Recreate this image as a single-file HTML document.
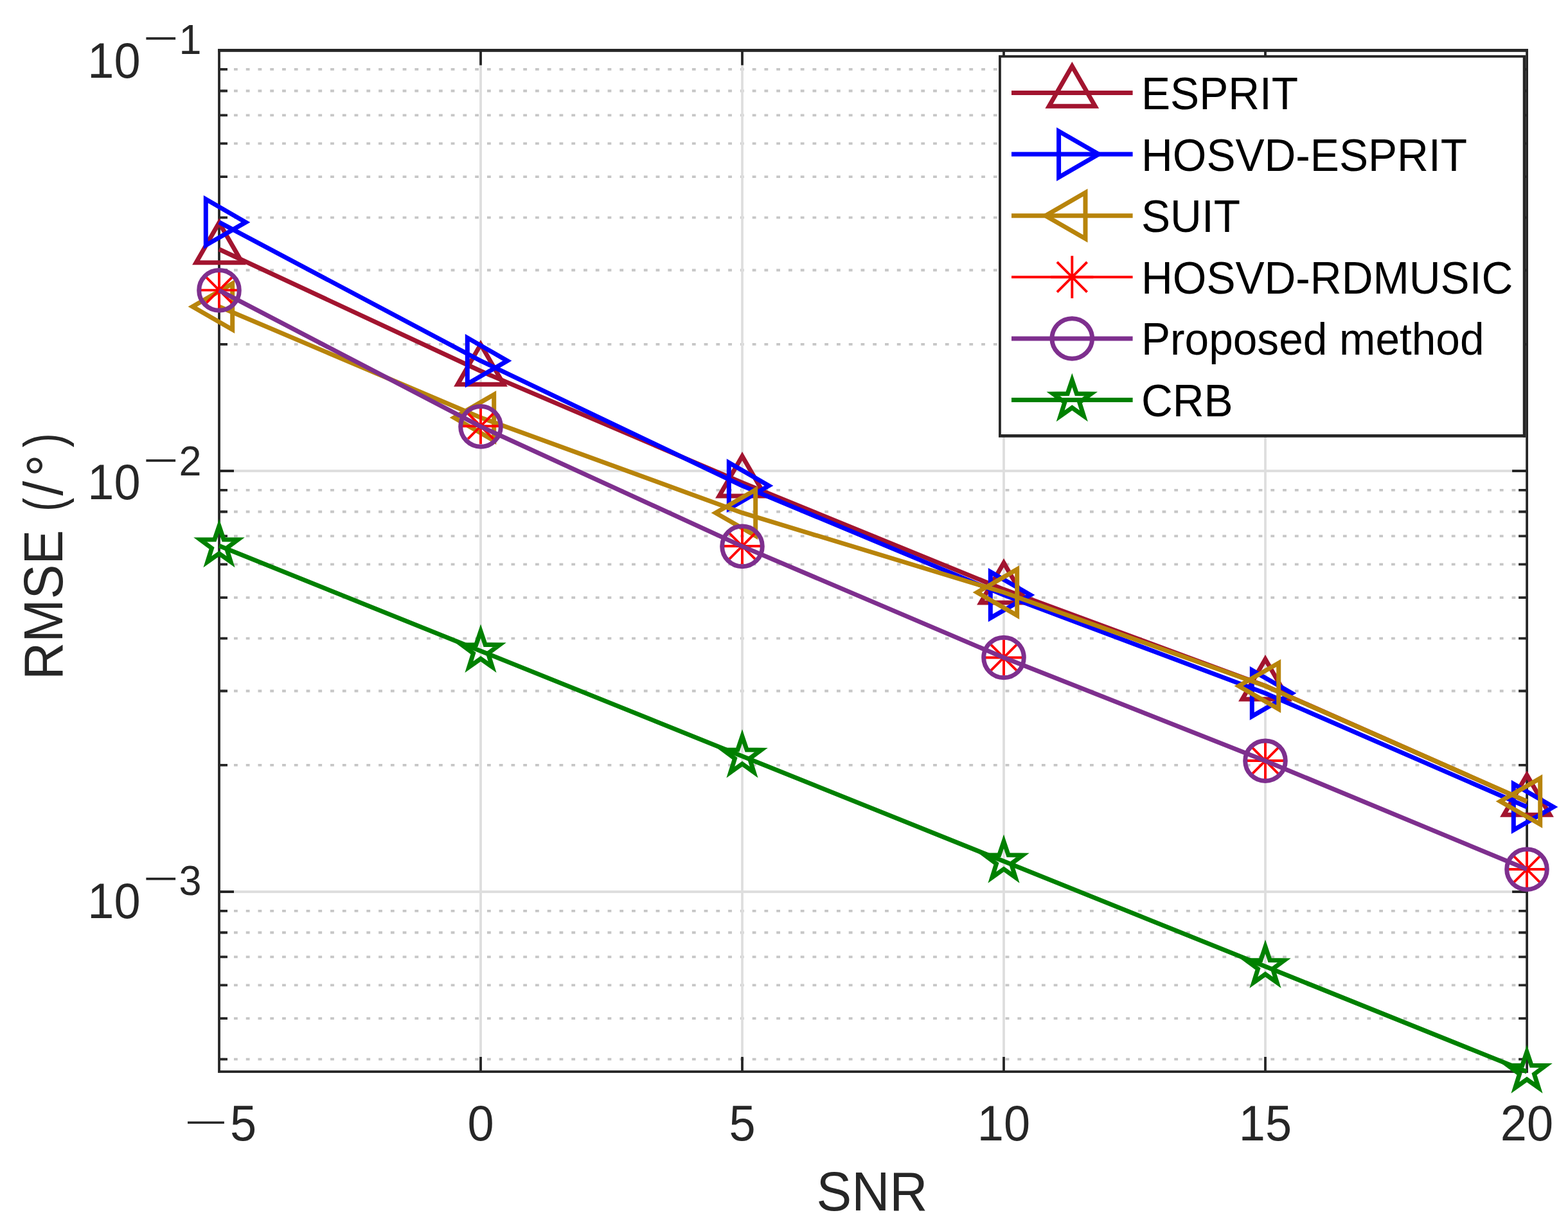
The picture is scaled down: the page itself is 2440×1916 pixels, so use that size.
<!DOCTYPE html>
<html><head><meta charset="utf-8"><title>RMSE vs SNR</title><style>
html,body{margin:0;padding:0;background:#fff;width:2440px;height:1916px;overflow:hidden;}
svg{display:block;}
text{font-family:"Liberation Sans",Arial,Helvetica,sans-serif;}
</style></head><body>
<svg width="2440" height="1916" viewBox="0 0 2440 1916">
<rect x="0" y="0" width="2440" height="1916" fill="#fff"/>
<g stroke="#c6c6c6" stroke-width="3.8" stroke-dasharray="5.8 12.96" fill="none">
<line x1="345.24" y1="535.83" x2="2376.1" y2="535.83"/>
<line x1="345.24" y1="420.49" x2="2376.1" y2="420.49"/>
<line x1="345.24" y1="338.65" x2="2376.1" y2="338.65"/>
<line x1="345.24" y1="275.17" x2="2376.1" y2="275.17"/>
<line x1="345.24" y1="223.31" x2="2376.1" y2="223.31"/>
<line x1="345.24" y1="179.46" x2="2376.1" y2="179.46"/>
<line x1="345.24" y1="141.48" x2="2376.1" y2="141.48"/>
<line x1="345.24" y1="107.97" x2="2376.1" y2="107.97"/>
<line x1="345.24" y1="1190.83" x2="2376.1" y2="1190.83"/>
<line x1="345.24" y1="1075.49" x2="2376.1" y2="1075.49"/>
<line x1="345.24" y1="993.65" x2="2376.1" y2="993.65"/>
<line x1="345.24" y1="930.17" x2="2376.1" y2="930.17"/>
<line x1="345.24" y1="878.31" x2="2376.1" y2="878.31"/>
<line x1="345.24" y1="834.46" x2="2376.1" y2="834.46"/>
<line x1="345.24" y1="796.48" x2="2376.1" y2="796.48"/>
<line x1="345.24" y1="762.97" x2="2376.1" y2="762.97"/>
<line x1="345.24" y1="1648.65" x2="2376.1" y2="1648.65"/>
<line x1="345.24" y1="1585.17" x2="2376.1" y2="1585.17"/>
<line x1="345.24" y1="1533.31" x2="2376.1" y2="1533.31"/>
<line x1="345.24" y1="1489.46" x2="2376.1" y2="1489.46"/>
<line x1="345.24" y1="1451.48" x2="2376.1" y2="1451.48"/>
<line x1="345.24" y1="1417.97" x2="2376.1" y2="1417.97"/>
</g>
<g stroke="#dedede" stroke-width="3.8" fill="none">
<line x1="341.0" y1="733.0" x2="2376.1" y2="733.0"/>
<line x1="341.0" y1="1388.0" x2="2376.1" y2="1388.0"/>
<line x1="748" y1="78.4" x2="748" y2="1668.0"/>
<line x1="1155" y1="78.4" x2="1155" y2="1668.0"/>
<line x1="1562" y1="78.4" x2="1562" y2="1668.0"/>
<line x1="1969" y1="78.4" x2="1969" y2="1668.0"/>
</g>
<g stroke="#262626" stroke-width="3.8" fill="none">
<rect x="341.0" y="78.4" width="2035.1" height="1589.6"/>
<line x1="339.1" y1="78.4" x2="2378.0" y2="78.4" stroke-width="4.85"/>
<path d="M748 1668.0V1645.0M748 78.4V101.4M1155 1668.0V1645.0M1155 78.4V101.4M1562 1668.0V1645.0M1562 78.4V101.4M1969 1668.0V1645.0M1969 78.4V101.4M341.0 733.0H364.0M2376.1 733.0H2353.1M341.0 1388.0H364.0M2376.1 1388.0H2353.1M341.0 535.83H354.0M2376.1 535.83H2363.1M341.0 420.49H354.0M2376.1 420.49H2363.1M341.0 338.65H354.0M2376.1 338.65H2363.1M341.0 275.17H354.0M2376.1 275.17H2363.1M341.0 223.31H354.0M2376.1 223.31H2363.1M341.0 179.46H354.0M2376.1 179.46H2363.1M341.0 141.48H354.0M2376.1 141.48H2363.1M341.0 107.97H354.0M2376.1 107.97H2363.1M341.0 1190.83H354.0M2376.1 1190.83H2363.1M341.0 1075.49H354.0M2376.1 1075.49H2363.1M341.0 993.65H354.0M2376.1 993.65H2363.1M341.0 930.17H354.0M2376.1 930.17H2363.1M341.0 878.31H354.0M2376.1 878.31H2363.1M341.0 834.46H354.0M2376.1 834.46H2363.1M341.0 796.48H354.0M2376.1 796.48H2363.1M341.0 762.97H354.0M2376.1 762.97H2363.1M341.0 1648.65H354.0M2376.1 1648.65H2363.1M341.0 1585.17H354.0M2376.1 1585.17H2363.1M341.0 1533.31H354.0M2376.1 1533.31H2363.1M341.0 1489.46H354.0M2376.1 1489.46H2363.1M341.0 1451.48H354.0M2376.1 1451.48H2363.1M341.0 1417.97H354.0M2376.1 1417.97H2363.1"/>
</g>
<g fill="none" stroke="#A2142F" stroke-width="7.0" stroke-miterlimit="10">
<polyline points="341,388.00 748,577.50 1155,751.30 1562,917.40 1969,1067.50 2376,1247.60" stroke-linejoin="round"/>
<path d="M341.00 346.60L376.85 408.70L305.15 408.70ZM748.00 536.10L783.85 598.20L712.15 598.20ZM1155.00 709.90L1190.85 772.00L1119.15 772.00ZM1562.00 876.00L1597.85 938.10L1526.15 938.10ZM1969.00 1026.10L2004.85 1088.20L1933.15 1088.20ZM2376.00 1206.20L2411.85 1268.30L2340.15 1268.30Z"/>
</g>
<g fill="none" stroke="#0000FF" stroke-width="7.0" stroke-miterlimit="10">
<polyline points="341,345.90 748,561.60 1155,756.00 1562,926.00 1969,1079.00 2376,1256.00" stroke-linejoin="round"/>
<path d="M382.40 345.90L320.30 381.75L320.30 310.05ZM789.40 561.60L727.30 597.45L727.30 525.75ZM1196.40 756.00L1134.30 791.85L1134.30 720.15ZM1603.40 926.00L1541.30 961.85L1541.30 890.15ZM2010.40 1079.00L1948.30 1114.85L1948.30 1043.15ZM2417.40 1256.00L2355.30 1291.85L2355.30 1220.15Z"/>
</g>
<g fill="none" stroke="#B8840B" stroke-width="7.0" stroke-miterlimit="10">
<polyline points="341,477.20 748,650.00 1155,798.20 1562,922.00 1969,1067.80 2376,1247.20" stroke-linejoin="round"/>
<path d="M299.60 477.20L361.70 441.35L361.70 513.05ZM706.60 650.00L768.70 614.15L768.70 685.85ZM1113.60 798.20L1175.70 762.35L1175.70 834.05ZM1520.60 922.00L1582.70 886.15L1582.70 957.85ZM1927.60 1067.80L1989.70 1031.95L1989.70 1103.65ZM2334.60 1247.20L2396.70 1211.35L2396.70 1283.05Z"/>
</g>
<g fill="none" stroke="#FF0000" stroke-width="3.9" stroke-miterlimit="10">
<polyline points="341,451.60 748,663.30 1155,850.00 1562,1023.50 1969,1184.00 2376,1353.00" stroke-linejoin="round"/>
<path d="M313.00 451.60H369.00M341.00 423.60V479.60M321.20 431.80L360.80 471.40M321.20 471.40L360.80 431.80M720.00 663.30H776.00M748.00 635.30V691.30M728.20 643.50L767.80 683.10M728.20 683.10L767.80 643.50M1127.00 850.00H1183.00M1155.00 822.00V878.00M1135.20 830.20L1174.80 869.80M1135.20 869.80L1174.80 830.20M1534.00 1023.50H1590.00M1562.00 995.50V1051.50M1542.20 1003.70L1581.80 1043.30M1542.20 1043.30L1581.80 1003.70M1941.00 1184.00H1997.00M1969.00 1156.00V1212.00M1949.20 1164.20L1988.80 1203.80M1949.20 1203.80L1988.80 1164.20M2348.00 1353.00H2404.00M2376.00 1325.00V1381.00M2356.20 1333.20L2395.80 1372.80M2356.20 1372.80L2395.80 1333.20"/>
</g>
<g fill="none" stroke="#7E2F8E" stroke-width="7.0" stroke-miterlimit="10">
<polyline points="341,451.90 748,663.90 1155,850.40 1562,1023.50 1969,1184.20 2376,1353.10" stroke-linejoin="round"/>
<circle cx="341" cy="451.90" r="31.3"/><circle cx="748" cy="663.90" r="31.3"/><circle cx="1155" cy="850.40" r="31.3"/><circle cx="1562" cy="1023.50" r="31.3"/><circle cx="1969" cy="1184.20" r="31.3"/><circle cx="2376" cy="1353.10" r="31.3"/>
</g>
<g fill="none" stroke="#008000" stroke-width="7.0" stroke-miterlimit="10">
<polyline points="341,849.50 748,1013.20 1155,1176.90 1562,1340.60 1969,1504.30 2376,1668.00" stroke-linejoin="round"/>
<path d="M341.00 818.65L348.11 839.72L370.34 839.97L352.50 853.24L359.13 874.46L341.00 861.59L322.87 874.46L329.50 853.24L311.66 839.97L333.89 839.72ZM748.00 982.35L755.11 1003.42L777.34 1003.67L759.50 1016.94L766.13 1038.16L748.00 1025.29L729.87 1038.16L736.50 1016.94L718.66 1003.67L740.89 1003.42ZM1155.00 1146.05L1162.11 1167.12L1184.34 1167.37L1166.50 1180.64L1173.13 1201.86L1155.00 1188.99L1136.87 1201.86L1143.50 1180.64L1125.66 1167.37L1147.89 1167.12ZM1562.00 1309.75L1569.11 1330.82L1591.34 1331.07L1573.50 1344.34L1580.13 1365.56L1562.00 1352.69L1543.87 1365.56L1550.50 1344.34L1532.66 1331.07L1554.89 1330.82ZM1969.00 1473.45L1976.11 1494.52L1998.34 1494.77L1980.50 1508.04L1987.13 1529.26L1969.00 1516.39L1950.87 1529.26L1957.50 1508.04L1939.66 1494.77L1961.89 1494.52ZM2376.00 1637.15L2383.11 1658.22L2405.34 1658.47L2387.50 1671.74L2394.13 1692.96L2376.00 1680.09L2357.87 1692.96L2364.50 1671.74L2346.66 1658.47L2368.89 1658.22Z"/>
</g>
<rect x="1555.95" y="87.8" width="815.85" height="590.60" fill="#fff" stroke="#262626" stroke-width="3.8"/>
<line x1="2372.0" y1="85.89999999999999" x2="2372.0" y2="680.6999999999999" stroke="#262626" stroke-width="4.3"/><line x1="1554.05" y1="678.4" x2="2373.7000000000003" y2="678.4" stroke="#262626" stroke-width="4.7"/>
<g fill="none" stroke="#A2142F" stroke-width="7.0" stroke-miterlimit="10"><line x1="1574" y1="144.45" x2="1762.6" y2="144.45"/><path d="M1668.30 103.05L1704.15 165.15L1632.45 165.15Z"/></g>
<g fill="none" stroke="#0000FF" stroke-width="7.0" stroke-miterlimit="10"><line x1="1574" y1="240.07" x2="1762.6" y2="240.07"/><path d="M1709.70 240.07L1647.60 275.92L1647.60 204.22Z"/></g>
<g fill="none" stroke="#B8840B" stroke-width="7.0" stroke-miterlimit="10"><line x1="1574" y1="335.69" x2="1762.6" y2="335.69"/><path d="M1626.90 335.69L1689.00 299.84L1689.00 371.54Z"/></g>
<g fill="none" stroke="#FF0000" stroke-width="3.9" stroke-miterlimit="10"><line x1="1574" y1="431.31" x2="1762.6" y2="431.31"/><path d="M1635.30 431.31H1701.30M1668.30 398.31V464.31M1644.97 407.98L1691.63 454.64M1644.97 454.64L1691.63 407.98"/></g>
<g fill="none" stroke="#7E2F8E" stroke-width="7.0" stroke-miterlimit="10"><line x1="1574" y1="526.9300000000001" x2="1762.6" y2="526.9300000000001"/><circle cx="1668.3" cy="526.93" r="31.3"/></g>
<g fill="none" stroke="#008000" stroke-width="7.0" stroke-miterlimit="10"><line x1="1574" y1="622.55" x2="1762.6" y2="622.55"/><path d="M1668.30 591.70L1675.41 612.77L1697.64 613.02L1679.80 626.29L1686.43 647.51L1668.30 634.64L1650.17 647.51L1656.80 626.29L1638.96 613.02L1661.19 612.77Z"/></g>
<g font-size="67.6" fill="#000">
<text transform="translate(1776 169.9) scale(1 1.05)">ESPRIT</text>
<text transform="translate(1776 265.6) scale(1 1.05)">HOSVD-ESPRIT</text>
<text transform="translate(1776 361.2) scale(1 1.05)">SUIT</text>
<text transform="translate(1776 456.8) scale(1 1.05)">HOSVD-RDMUSIC</text>
<text transform="translate(1776 552.4) scale(1 1.05)">Proposed method</text>
<text transform="translate(1776 648.0) scale(1 1.05)">CRB</text>
</g>
<g fill="#262626">
<text font-size="74.0" transform="translate(136.25 120.8) scale(1 1.04)">10</text><text font-size="100" fill="#262626" transform="translate(227.20 60.00) scale(0.9403 0.5189)" x="-4.93" y="33.25">&#8722;</text><text font-size="62.9" transform="translate(278.5 83.9) scale(1 1.04)">1</text>
<text font-size="74.0" transform="translate(136.25 776.9) scale(1 1.04)">10</text><text font-size="100" fill="#262626" transform="translate(227.20 716.90) scale(0.9403 0.5189)" x="-4.93" y="33.25">&#8722;</text><text font-size="62.9" transform="translate(278.5 739.9) scale(1 1.04)">2</text>
<text font-size="74.0" transform="translate(136.25 1428.9) scale(1 1.04)">10</text><text font-size="100" fill="#262626" transform="translate(227.20 1368.00) scale(0.9403 0.5189)" x="-4.93" y="33.25">&#8722;</text><text font-size="62.9" transform="translate(278.5 1392.9) scale(1 1.04)">3</text>
<text font-size="100" fill="#262626" transform="translate(292.10 1747.00) scale(1.1708 0.5049)" x="-4.93" y="33.25">&#8722;</text><text font-size="74.0" transform="translate(358 1775) scale(1 1.04)">5</text>
<text font-size="74.0" transform="translate(748 1775) scale(1 1.04)" text-anchor="middle">0</text>
<text font-size="74.0" transform="translate(1155 1775) scale(1 1.04)" text-anchor="middle">5</text>
<text font-size="74.0" transform="translate(1562 1775) scale(1 1.04)" text-anchor="middle">10</text>
<text font-size="74.0" transform="translate(1969 1775) scale(1 1.04)" text-anchor="middle">15</text>
<text font-size="74.0" transform="translate(2376 1775) scale(1 1.04)" text-anchor="middle">20</text>
<text font-size="82.0" transform="translate(1357 1884) scale(1.0 1.05)" text-anchor="middle">SNR</text>
<text font-size="81.7" transform="translate(97.3 1051.7) rotate(-90) scale(0.99 1.042)" x="-6.70" y="0">RMSE</text><text font-size="81.7" transform="translate(97.3 792.0) rotate(-90) scale(0.776 1.042)" x="-5.07" y="0">(</text><text font-size="81.7" transform="translate(97.3 771.6) rotate(-90) scale(1.0 1.042)" x="0.00" y="0">/</text><text font-size="88" transform="translate(97.3 736.8) rotate(-90) scale(0.99 1.0)" x="-5.24" y="5.75">°</text><text font-size="81.7" transform="translate(97.3 696.0) rotate(-90) scale(0.83 1.042)" x="-0.48" y="0">)</text>
</g>
</svg>
</body></html>
